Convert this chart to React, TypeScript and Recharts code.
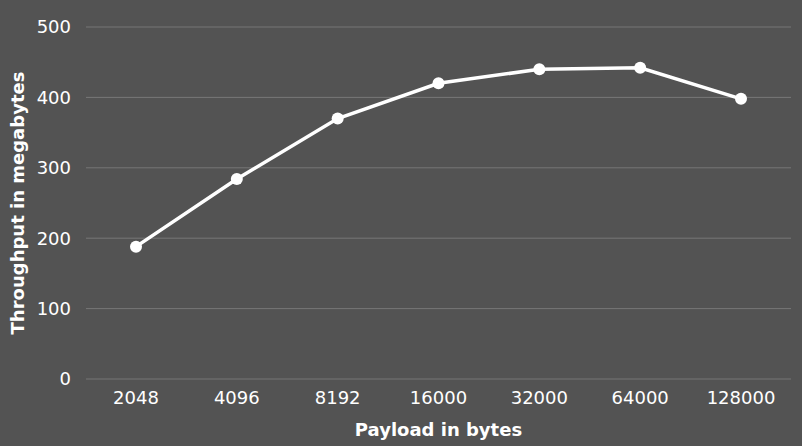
import { LineChart, Line, XAxis, YAxis, CartesianGrid } from 'recharts';

const payloads = ['2048', '4096', '8192', '16000', '32000', '64000', '128000'];
const throughput = [188, 284, 370, 420, 440, 442, 398];
const yTicks = [0, 100, 200, 300, 400, 500];

const data = payloads.map((p, i) => ({ payload: p, throughput: throughput[i] }));

const BG = '#535353';
const FONT = '"DejaVu Sans", "Open Sans", sans-serif';

export default function App() {
  return (
    <div style={{ position: 'fixed', left: 0, top: 0, width: 802, height: 446, background: BG }}>
      <LineChart
        width={802}
        height={446}
        data={data}
        margin={{ top: 27, right: 11, bottom: 6, left: 0 }}
      >
        <CartesianGrid vertical={false} stroke="#777777" strokeWidth={1} />
        <XAxis
          dataKey="payload"
          height={61}
          padding={{ left: 50, right: 50 }}
          axisLine={false}
          tickLine={false}
          tick={{ fill: '#ffffff', fontSize: 18, fontFamily: FONT }}
          tickMargin={6}
          label={{
            value: 'Payload in bytes',
            position: 'insideBottom',
            offset: 4,
            fill: '#ffffff',
            fontSize: 18,
            fontWeight: 700,
            fontFamily: FONT,
          }}
        />
        <YAxis
          width={86}
          domain={[0, 500]}
          ticks={yTicks}
          axisLine={false}
          tickLine={false}
          tickMargin={9}
          tick={{ fill: '#ffffff', fontSize: 18, fontFamily: FONT }}
          label={{
            value: 'Throughput in megabytes',
            angle: -90,
            position: 'insideLeft',
            offset: 18,
            fill: '#ffffff',
            fontSize: 18,
            fontWeight: 700,
            fontFamily: FONT,
            style: { textAnchor: 'middle' },
          }}
        />
        <Line
          type="linear"
          dataKey="throughput"
          stroke="#ffffff"
          strokeWidth={3.5}
          dot={{ r: 6, fill: '#ffffff', stroke: '#ffffff', strokeWidth: 0 }}
          activeDot={false}
          isAnimationActive={false}
        />
      </LineChart>
    </div>
  );
}
